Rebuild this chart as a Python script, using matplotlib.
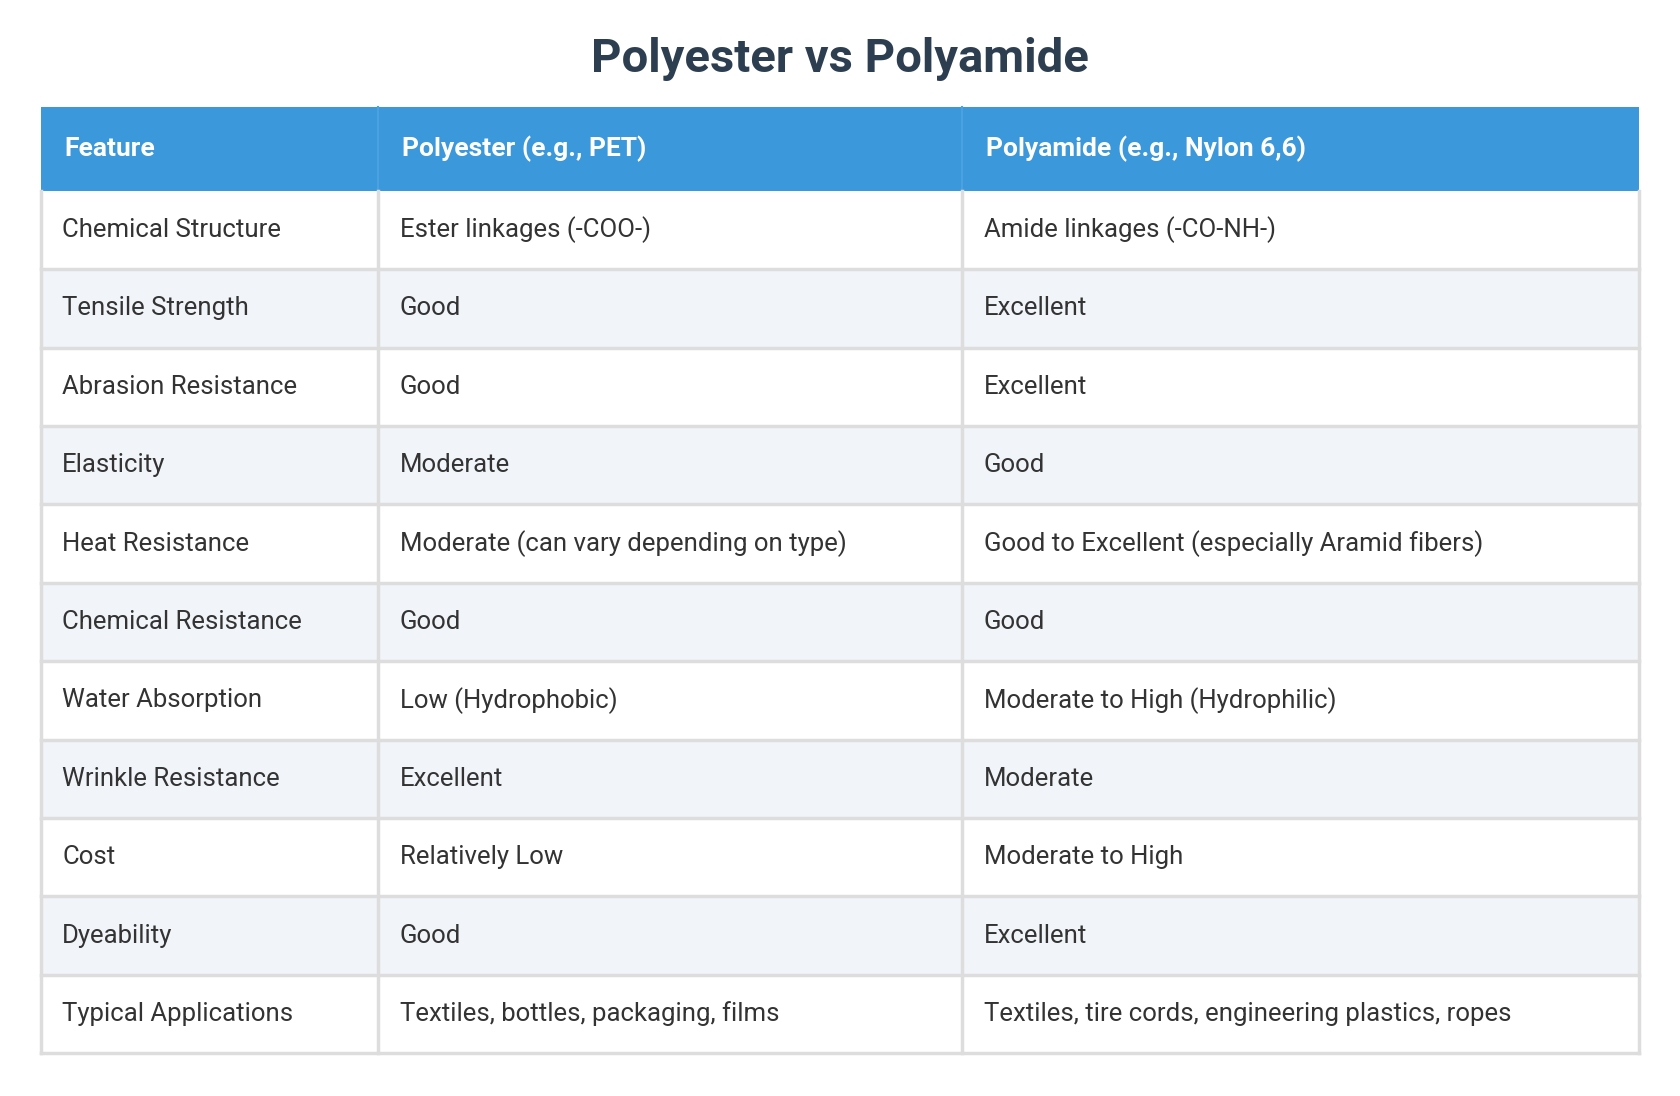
import matplotlib.pyplot as plt
from matplotlib.patches import Rectangle

plt.rcParams["font.family"] = ["Roboto", "DejaVu Sans"]

title = "Polyester vs Polyamide"
headers = ["Feature", "Polyester (e.g., PET)", "Polyamide (e.g., Nylon 6,6)"]
features = ["Chemical Structure", "Tensile Strength", "Abrasion Resistance", "Elasticity",
            "Heat Resistance", "Chemical Resistance", "Water Absorption", "Wrinkle Resistance",
            "Cost", "Dyeability", "Typical Applications"]
polyester = ["Ester linkages (-COO-)", "Good", "Good", "Moderate",
             "Moderate (can vary depending on type)", "Good", "Low (Hydrophobic)", "Excellent",
             "Relatively Low", "Good", "Textiles, bottles, packaging, films"]
polyamide = ["Amide linkages (-CO-NH-)", "Excellent", "Excellent", "Good",
             "Good to Excellent (especially Aramid fibers)", "Good", "Moderate to High (Hydrophilic)",
             "Moderate", "Moderate to High", "Excellent", "Textiles, tire cords, engineering plastics, ropes"]

W, H = 1568, 1023
fig = plt.figure(figsize=(16.8, 10.96), dpi=100)
ax = fig.add_axes([0, 0, 1, 1])
ax.set_xlim(0, W)
ax.set_ylim(H, 0)
ax.axis("off")

col_x = [38, 353, 898, 1530]
head_top, head_bot, bottom = 100, 178, 983
row_h = (bottom - head_bot) / len(features)

ax.text(W / 2, 55, title, ha="center", va="center", fontsize=34, fontweight="bold", color="#2c3e50")

ax.add_patch(Rectangle((col_x[0], head_top), col_x[-1] - col_x[0], head_bot - head_top,
                       facecolor="#3a98db", edgecolor="none"))
for i, h in enumerate(headers):
    ax.text(col_x[i] + 22, (head_top + head_bot) / 2, h, ha="left", va="center",
            fontsize=19, fontweight="bold", color="white")
for x in col_x[1:-1]:
    ax.plot([x, x], [head_top, head_bot], color="#4aa3e0", lw=1.5)

for r, row in enumerate(zip(features, polyester, polyamide)):
    y0 = head_bot + r * row_h
    bg = "white" if r % 2 == 0 else "#f1f4f9"
    ax.add_patch(Rectangle((col_x[0], y0), col_x[-1] - col_x[0], row_h,
                           facecolor=bg, edgecolor="none"))
    for c, val in enumerate(row):
        ax.text(col_x[c] + 20, y0 + row_h / 2, val, ha="left", va="center",
                fontsize=18.5, color="#333333")
    ax.plot([col_x[0], col_x[-1]], [y0 + row_h, y0 + row_h], color="#dddddd", lw=2.5)

for x in col_x:
    ax.plot([x, x], [head_bot, bottom], color="#dddddd", lw=2.5)

fig.savefig("out.png", dpi=100)
